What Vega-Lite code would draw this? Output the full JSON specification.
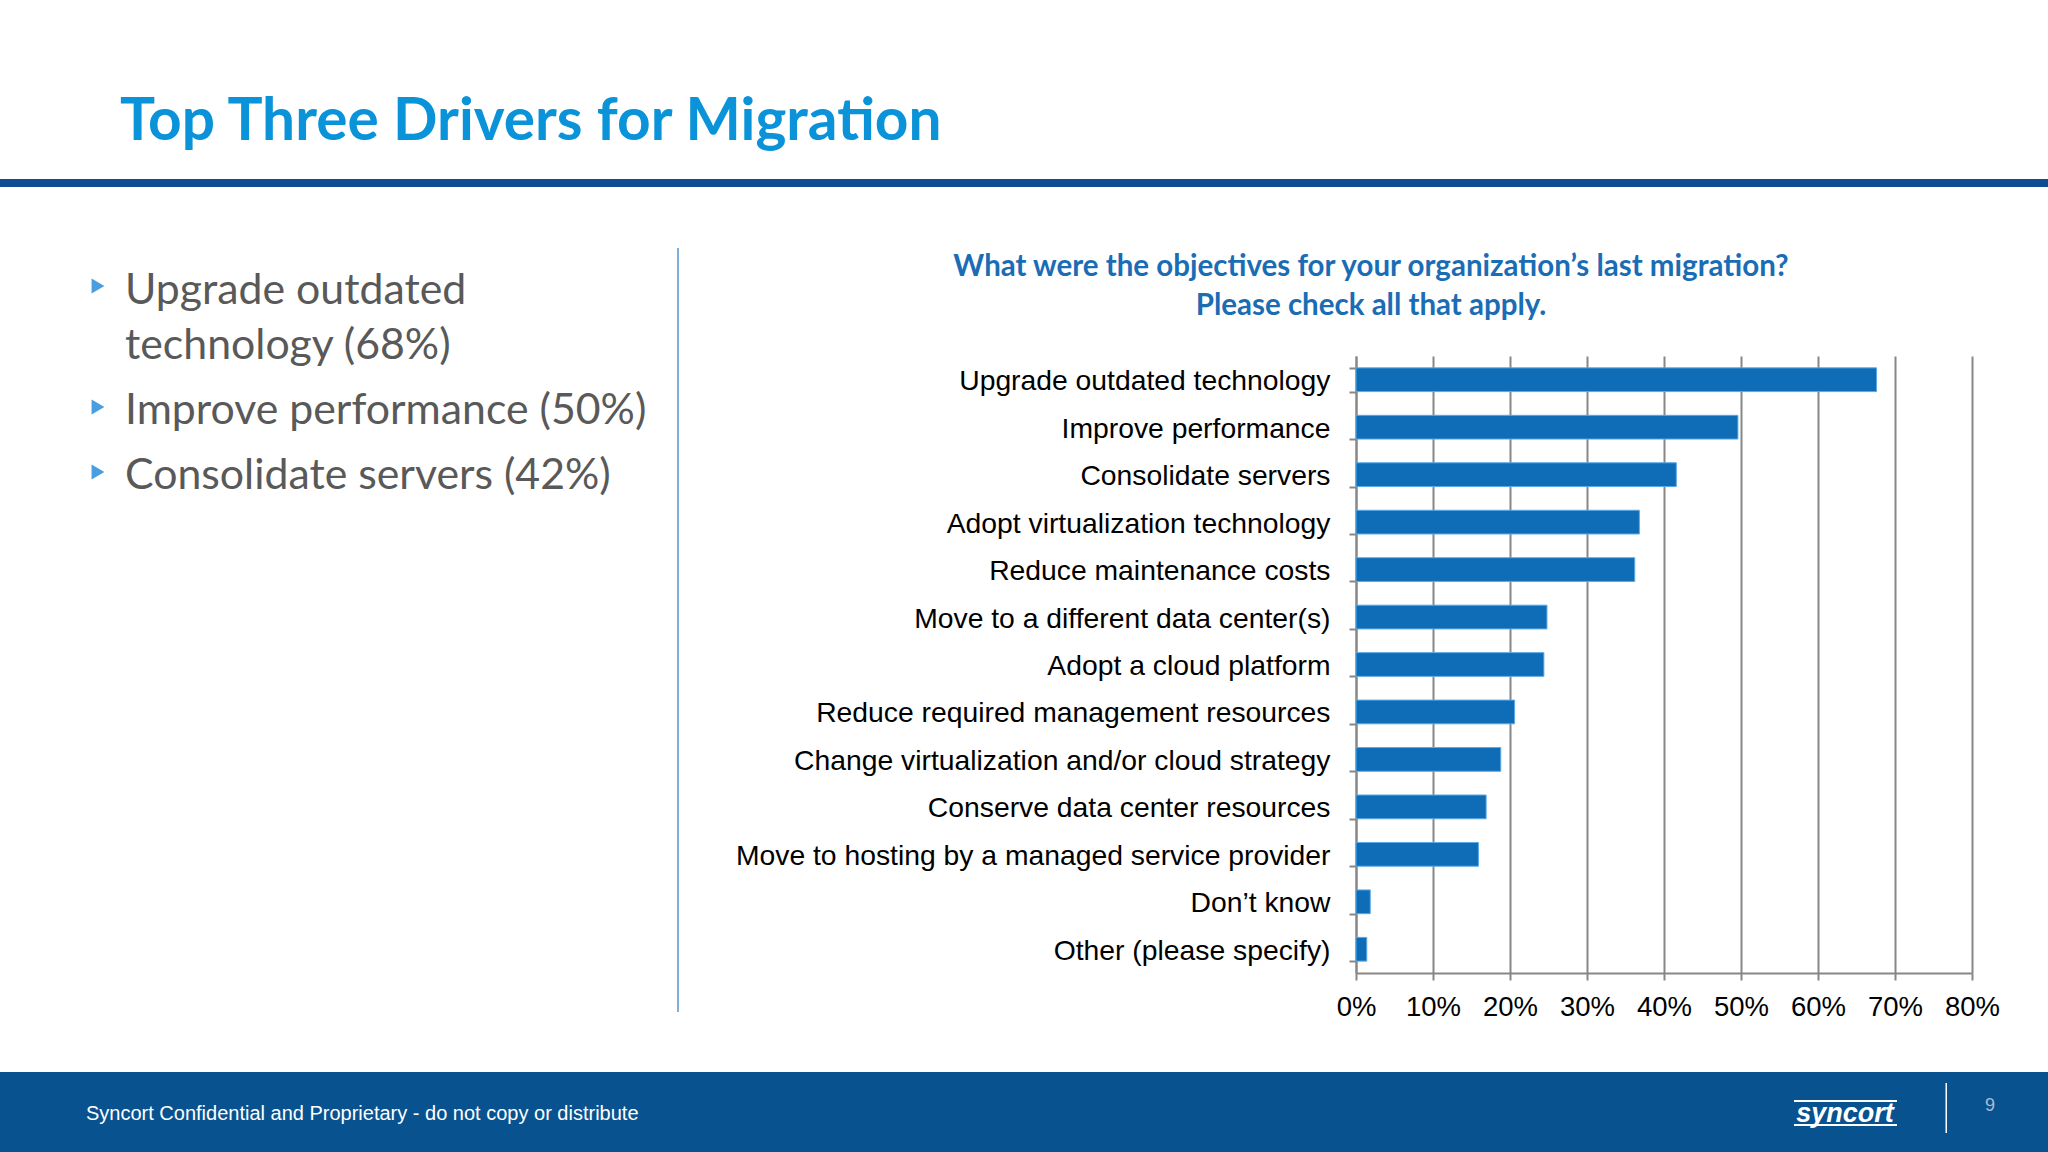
{
  "$schema": "https://vega.github.io/schema/vega-lite/v6.json",
  "width": 616,
  "height": 617,
  "autosize": {"type": "none"},
  "padding": {"left": 1356, "top": 356, "right": 76, "bottom": 179},
  "background": "#ffffff",
  "config": {"view": {"stroke": null}},
  "datasets": {
    "objectives": [
      {"objective": "Upgrade outdated technology", "share": 67.6},
      {"objective": "Improve performance", "share": 49.6},
      {"objective": "Consolidate servers", "share": 41.6},
      {"objective": "Adopt virtualization technology", "share": 36.8},
      {"objective": "Reduce maintenance costs", "share": 36.2},
      {"objective": "Move to a different data center(s)", "share": 24.8},
      {"objective": "Adopt a cloud platform", "share": 24.4},
      {"objective": "Reduce required management resources", "share": 20.6},
      {"objective": "Change virtualization and/or cloud strategy", "share": 18.8},
      {"objective": "Conserve data center resources", "share": 16.9},
      {"objective": "Move to hosting by a managed service provider", "share": 15.9},
      {"objective": "Don’t know", "share": 1.85},
      {"objective": "Other (please specify)", "share": 1.4}
    ],
    "one": [{}]
  },
  "layer": [
    {
      "data": {"name": "one"},
      "mark": {"type": "rect", "x": -1356, "x2": 692, "y": 716, "y2": 796, "color": "#08528f"},
      "encoding": {}
    },
    {
      "data": {"name": "one"},
      "mark": {"type": "rect", "x": -1356, "x2": 692, "y": -177, "y2": -169, "color": "#0d4c92"},
      "encoding": {}
    },
    {
      "data": {"name": "one"},
      "mark": {"type": "rect", "x": -679, "x2": -677, "y": -108, "y2": 656, "color": "#7ab0dd"},
      "encoding": {}
    },
    {
      "data": {"name": "one"},
      "mark": {"type": "text", "text": "Top Three Drivers for Migration", "x": -1236, "y": -234, "align": "left", "baseline": "middle", "font": "Lato", "fontWeight": "bold", "fontSize": 58.6, "color": "#0a93d8"},
      "encoding": {}
    },
    {
      "data": {"name": "one"},
      "mark": {"type": "text", "text": "What were the objectives for your organization’s last migration?", "x": 15, "y": -89, "align": "center", "baseline": "middle", "font": "Lato", "fontWeight": "bold", "fontSize": 29.5, "color": "#1a6db5"},
      "encoding": {}
    },
    {
      "data": {"name": "one"},
      "mark": {"type": "text", "text": "Please check all that apply.", "x": 15, "y": -50, "align": "center", "baseline": "middle", "font": "Lato", "fontWeight": "bold", "fontSize": 29.5, "color": "#1a6db5"},
      "encoding": {}
    },
    {
      "data": {"name": "one"},
      "mark": {"type": "text", "text": "Upgrade outdated", "x": -1231, "y": -65, "align": "left", "baseline": "middle", "font": "Lato", "fontSize": 42.8, "color": "#595959"},
      "encoding": {}
    },
    {
      "data": {"name": "one"},
      "mark": {"type": "text", "text": "technology (68%)", "x": -1231, "y": -10, "align": "left", "baseline": "middle", "font": "Lato", "fontSize": 42.8, "color": "#595959"},
      "encoding": {}
    },
    {
      "data": {"name": "one"},
      "mark": {"type": "text", "text": "Improve performance (50%)", "x": -1231, "y": 55, "align": "left", "baseline": "middle", "font": "Lato", "fontSize": 42.8, "color": "#595959"},
      "encoding": {}
    },
    {
      "data": {"name": "one"},
      "mark": {"type": "text", "text": "Consolidate servers (42%)", "x": -1231, "y": 120, "align": "left", "baseline": "middle", "font": "Lato", "fontSize": 42.8, "color": "#595959"},
      "encoding": {}
    },
    {
      "data": {"name": "one"},
      "mark": {"type": "point", "shape": "triangle-right", "x": -1258, "y": -70, "size": 220, "filled": true, "color": "#4a9ee0", "opacity": 1},
      "encoding": {}
    },
    {
      "data": {"name": "one"},
      "mark": {"type": "point", "shape": "triangle-right", "x": -1258, "y": 51, "size": 220, "filled": true, "color": "#4a9ee0", "opacity": 1},
      "encoding": {}
    },
    {
      "data": {"name": "one"},
      "mark": {"type": "point", "shape": "triangle-right", "x": -1258, "y": 116, "size": 220, "filled": true, "color": "#4a9ee0", "opacity": 1},
      "encoding": {}
    },
    {
      "data": {"name": "one"},
      "mark": {"type": "text", "text": "Syncort Confidential and Proprietary - do not copy or distribute", "x": -1270, "y": 758, "align": "left", "baseline": "middle", "font": "Liberation Sans", "fontSize": 20, "color": "#ffffff"},
      "encoding": {}
    },
    {
      "data": {"name": "one"},
      "mark": {"type": "text", "text": "syncort", "x": 489, "y": 758, "align": "center", "baseline": "middle", "font": "Liberation Sans", "fontWeight": "bold", "fontStyle": "italic", "fontSize": 27, "color": "#ffffff"},
      "encoding": {}
    },
    {
      "data": {"name": "one"},
      "mark": {"type": "rect", "x": 438, "x2": 541, "y": 744, "y2": 746, "color": "#ffffff"},
      "encoding": {}
    },
    {
      "data": {"name": "one"},
      "mark": {"type": "rect", "x": 438, "x2": 541, "y": 768, "y2": 770, "color": "#ffffff"},
      "encoding": {}
    },
    {
      "data": {"name": "one"},
      "mark": {"type": "rect", "x": 589.5, "x2": 591, "y": 727, "y2": 777, "color": "#ffffff"},
      "encoding": {}
    },
    {
      "data": {"name": "one"},
      "mark": {"type": "text", "text": "9", "x": 634, "y": 750, "align": "center", "baseline": "middle", "font": "Liberation Sans", "fontSize": 18, "color": "#a9bcd4"},
      "encoding": {}
    },
    {
      "data": {"name": "objectives"},
      "mark": {"type": "bar", "color": "#0f6db7", "stroke": "#5aa9e6", "strokeWidth": 1},
      "encoding": {
        "y": {
          "field": "objective",
          "type": "nominal",
          "sort": null,
          "scale": {"paddingInner": 0.5, "paddingOuter": 0.25},
          "axis": {
            "title": null,
            "tickBand": "extent",
            "tickSize": 7,
            "tickWidth": 2,
            "tickColor": "#878787",
            "domainColor": "#878787",
            "domainWidth": 2,
            "labelFont": "Liberation Sans",
            "labelFontSize": 28.3,
            "labelColor": "#000000",
            "labelPadding": 19,
            "labelOffset": 2,
            "labelLimit": 0,
            "grid": false
          }
        },
        "x": {
          "field": "share",
          "type": "quantitative",
          "scale": {"domain": [0, 80], "nice": false},
          "axis": {
            "title": null,
            "values": [0, 10, 20, 30, 40, 50, 60, 70, 80],
            "labelExpr": "datum.value + '%'",
            "grid": true,
            "gridColor": "#878787",
            "gridWidth": 2,
            "tickSize": 7,
            "tickWidth": 2,
            "tickColor": "#878787",
            "domainColor": "#878787",
            "domainWidth": 2,
            "labelFont": "Liberation Sans",
            "labelFontSize": 27.5,
            "labelColor": "#000000",
            "labelPadding": 13,
            "labelFlush": false
          }
        }
      }
    }
  ]
}
